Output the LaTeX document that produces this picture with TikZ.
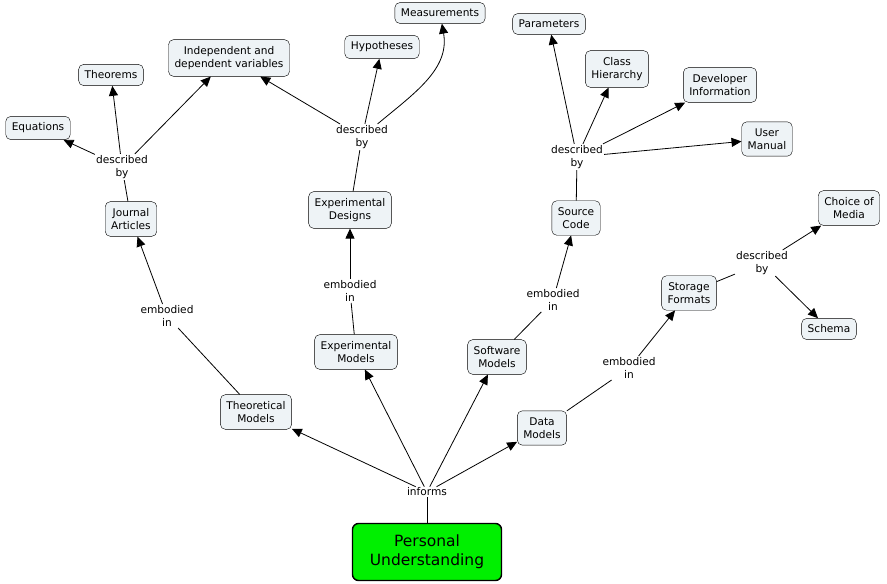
\documentclass[tikz,border=0pt]{standalone}
\usepackage{fontspec}
\setmainfont{DejaVu Sans}
\usetikzlibrary{arrows.meta}
\definecolor{boxfill}{HTML}{EEF3F6}
\definecolor{pgreen}{HTML}{00F000}
\begin{document}
\begin{tikzpicture}[x=1pt,y=-1pt,
  c/.style={draw,rounded corners=5pt,fill=boxfill,inner xsep=6pt,inner ysep=6.5pt,align=center,font=\fontsize{10.6}{13.5}\selectfont},
  l/.style={fill=white,inner sep=1pt,align=center,font=\fontsize{10.6}{13.5}\selectfont},
  a/.style={-{Triangle[length=10pt,width=9pt]},line width=0.8pt},
  n/.style={line width=0.8pt}]
\useasboundingbox (0,0) rectangle (887,584);
\node[c,fill=pgreen,line width=1.4pt,rounded corners=6pt,minimum width=149pt,minimum height=57pt,font=\fontsize{15.5}{19}\selectfont] (pu) at (427,552) {Personal\\Understanding};
\node[l] (inf) at (427,492) {informs};
\node[c] (tm) at (256,412) {Theoretical\\Models};
\node[c] (em) at (356,352) {Experimental\\Models};
\node[c] (sm) at (497,357) {Software\\Models};
\node[c] (dm) at (542,428) {Data\\Models};
\node[l] (e1) at (167,316) {embodied\\in};
\node[l] (e2) at (350,291) {embodied\\in};
\node[l] (e3) at (553,300) {embodied\\in};
\node[l] (e4) at (629,368) {embodied\\in};
\node[c] (ja) at (131,219) {Journal\\Articles};
\node[c] (ed) at (350,210) {Experimental\\Designs};
\node[c] (sc) at (576,218) {Source\\Code};
\node[c] (sf) at (689,293) {Storage\\Formats};
\node[l] (d1) at (122,167) {described\\by};
\node[l] (d2) at (362,137) {described\\by};
\node[l] (d3) at (577,157) {described\\by};
\node[l] (d4) at (762,263) {described\\by};
\node[c] (eq) at (38,128) {Equations};
\node[c] (th) at (111,75) {Theorems};
\node[c] (idv) at (229,58) {Independent and\\dependent variables};
\node[c] (hy) at (382,47) {Hypotheses};
\node[c] (me) at (440,13) {Measurements};
\node[c] (pa) at (549,24) {Parameters};
\node[c] (ch) at (617,69) {Class\\Hierarchy};
\node[c] (di) at (720,85) {Developer\\Information};
\node[c] (um) at (767,139) {User\\Manual};
\node[c] (cm) at (849,208) {Choice of\\Media};
\node[c] (sch) at (829,329) {Schema};
\draw[n] (pu) -- (inf);
\draw[a] (inf) -- (tm);
\draw[a] (inf) -- (em);
\draw[a] (inf) -- (sm);
\draw[a] (inf) -- (dm);
\draw[n] (tm) -- (e1); \draw[a] (e1) -- (ja);
\draw[n] (em) -- (e2); \draw[a] (e2) -- (ed);
\draw[n] (sm) -- (e3); \draw[a] (e3) -- (sc);
\draw[n] (dm) -- (e4); \draw[a] (e4) -- (sf);
\draw[n] (ja) -- (d1); \draw[a] (d1) -- (eq); \draw[a] (d1) -- (th); \draw[a] (d1) -- (idv);
\draw[n] (ed) -- (d2); \draw[a] (d2) -- (idv); \draw[a] (d2) -- (hy);
\draw[a] (d2) to[out=40,in=-80] (me);
\draw[n] (sc) -- (d3); \draw[a] (d3) -- (pa); \draw[a] (d3) -- (ch); \draw[a] (d3) -- (di); \draw[a] (d3) -- (um);
\draw[n] (sf) -- (d4); \draw[a] (d4) -- (cm); \draw[a] (d4) -- (sch);
\end{tikzpicture}
\end{document}
